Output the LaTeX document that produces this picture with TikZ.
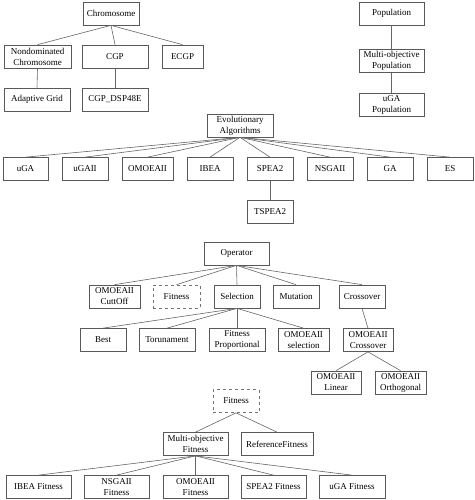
\documentclass[tikz,border=0pt]{standalone}
\usepackage{fontspec}
\setmainfont{Liberation Serif}
\begin{document}
\begin{tikzpicture}[x=1pt,y=-1pt,
  box/.style={draw=black!65,line width=0.7pt,inner sep=0pt,minimum height=23pt,align=center,
    font=\fontsize{9}{11}\selectfont},
  dbox/.style={box,dashed,draw=black!55},
  edge/.style={draw=black!60,line width=0.6pt}]
\useasboundingbox (0,0) rectangle (474,500);
% chromosome tree
\node[box,minimum width=56pt] (chrom) at (111,13.5) {Chromosome};
\node[box,minimum width=67pt] (nondom) at (37.5,56.5) {Nondominated\\Chromosome};
\node[box,minimum width=66pt] (cgp) at (115,56.5) {CGP};
\node[box,minimum width=41pt] (ecgp) at (182.5,56.5) {ECGP};
\node[box,minimum width=66pt] (grid) at (37,99.5) {Adaptive Grid};
\node[box,minimum width=66pt] (dsp) at (115,99.5) {CGP\_DSP48E};
\foreach \c in {nondom,cgp,ecgp}
  \draw[edge] (chrom.south) -- (\c.north);
\draw[edge] (nondom.south) -- (grid.north);
\draw[edge] (cgp.south) -- (dsp.north);
% population chain
\node[box,minimum width=65pt] (pop) at (391.5,13.5) {Population};
\node[box,minimum width=65pt] (mopop) at (391.5,61) {Multi-objective\\Population};
\node[box,minimum width=65pt] (ugapop) at (391.5,104.5) {uGA\\Population};
\draw[edge] (pop.south) -- (mopop.north);
\draw[edge] (mopop.south) -- (ugapop.north);
% evolutionary algorithms
\node[box,minimum width=66pt] (ea) at (240,125.5) {Evolutionary\\Algorithms};
\node[box,minimum width=45pt] (uga) at (25.5,169) {uGA};
\node[box,minimum width=46pt] (ugaii) at (85,169) {uGAII};
\node[box,minimum width=51pt] (omoea) at (147.5,169) {OMOEAII};
\node[box,minimum width=46pt] (ibea) at (210,169) {IBEA};
\node[box,minimum width=46pt] (spea) at (270,169) {SPEA2};
\node[box,minimum width=46pt] (nsga) at (330,169) {NSGAII};
\node[box,minimum width=46pt] (ga) at (390,169) {GA};
\node[box,minimum width=46pt] (es) at (450,169) {ES};
\node[box,minimum width=46pt] (tspea) at (270,211.5) {TSPEA2};
\foreach \c in {uga,ugaii,omoea,ibea,spea,nsga,ga,es}
  \draw[edge] (ea.south) -- (\c.north);
\draw[edge] (spea.south) -- (tspea.north);
% operator tree
\node[box,minimum width=65pt] (op) at (236.5,253.5) {Operator};
\node[box,minimum width=51pt] (cutoff) at (114.5,296.5) {OMOEAII\\CuttOff};
\node[dbox,minimum width=47pt] (opfit) at (176.5,296.5) {Fitness};
\node[box,minimum width=46pt] (sel) at (237,296.5) {Selection};
\node[box,minimum width=46pt] (mut) at (296,296.5) {Mutation};
\node[box,minimum width=46pt] (cross) at (362,296.5) {Crossover};
\foreach \c in {cutoff,opfit,sel,mut,cross}
  \draw[edge] (op.south) -- (\c.north);
\node[box,minimum width=46pt] (best) at (103,340) {Best};
\node[box,minimum width=56pt] (tour) at (167,340) {Torunament};
\node[box,minimum width=56pt] (prop) at (237,340) {Fitness\\Proportional};
\node[box,minimum width=51pt] (omsel) at (303.5,340) {OMOEAII\\selection};
\node[box,minimum width=50pt] (omcross) at (368,340) {OMOEAII\\Crossover};
\foreach \c in {best,tour,prop,omsel}
  \draw[edge] (sel.south) -- (\c.north);
\draw[edge] (cross.south) -- (omcross.north);
\node[box,minimum width=50pt] (lin) at (336,382.5) {OMOEAII\\Linear};
\node[box,minimum width=51pt] (orth) at (400.5,382.5) {OMOEAII\\Orthogonal};
\foreach \c in {lin,orth}
  \draw[edge] (omcross.south) -- (\c.north);
% fitness tree
\node[dbox,minimum width=46pt] (fit) at (236,401) {Fitness};
\node[box,minimum width=65pt] (mofit) at (195.5,444) {Multi-objective\\Fitness};
\node[box,minimum width=72pt] (reffit) at (277,444) {ReferenceFitness};
\foreach \c in {mofit,reffit}
  \draw[edge] (fit.south) -- (\c.north);
\node[box,minimum width=65pt] (ibeafit) at (38.5,487) {IBEA Fitness};
\node[box,minimum width=65pt] (nsgafit) at (116.5,487) {NSGAII\\Fitness};
\node[box,minimum width=65pt] (omfit) at (195.5,487) {OMOEAII\\Fitness};
\node[box,minimum width=65pt] (speafit) at (273.5,487) {SPEA2 Fitness};
\node[box,minimum width=66pt] (ugafit) at (352,487) {uGA Fitness};
\foreach \c in {ibeafit,nsgafit,omfit,speafit,ugafit}
  \draw[edge] (mofit.south) -- (\c.north);
\end{tikzpicture}
\end{document}
